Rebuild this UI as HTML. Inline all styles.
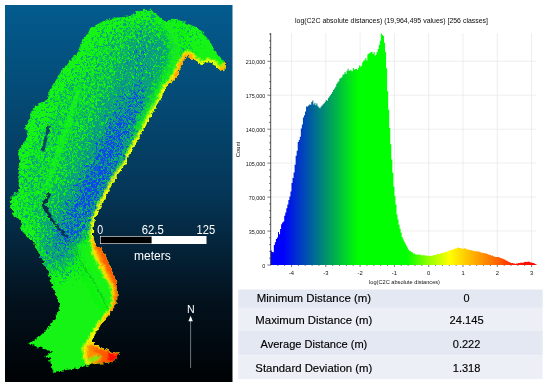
<!DOCTYPE html>
<html><head><meta charset="utf-8"><title>C2C distances</title>
<style>
html,body{margin:0;padding:0;background:#fff;}
body{width:550px;height:387px;overflow:hidden;font-family:"Liberation Sans",sans-serif;}
svg{display:block;}
text{font-family:"Liberation Sans",sans-serif;}
</style></head><body>
<svg width="550" height="387" viewBox="0 0 550 387">
<defs>
<linearGradient id="bg" x1="0" y1="0" x2="0" y2="1">
<stop offset="0" stop-color="#035b8e"/>
<stop offset="0.25" stop-color="#044a75"/>
<stop offset="0.5" stop-color="#053657"/>
<stop offset="0.78" stop-color="#03121e"/>
<stop offset="1" stop-color="#000204"/>
</linearGradient>
<linearGradient id="hg" gradientUnits="userSpaceOnUse" x1="271" y1="0" x2="537" y2="0">
<stop offset="0" stop-color="#0000ff"/>
<stop offset="0.045" stop-color="#0000ff"/>
<stop offset="0.327" stop-color="#00ff00"/>
<stop offset="0.511" stop-color="#00ff00"/>
<stop offset="0.590" stop-color="#90ff00"/>
<stop offset="0.671" stop-color="#ffff00"/>
<stop offset="0.774" stop-color="#ffa500"/>
<stop offset="0.856" stop-color="#ff6000"/>
<stop offset="0.917" stop-color="#ff1800"/>
<stop offset="1" stop-color="#ff0000"/>
</linearGradient>
<path id="cloud" d="M115.4,17.8 L102.7,21.6 96,25 90,29 82,40 78,52 70,60 62,70 58,77 50,89 48,99 34,107 30,117 25,127 28,137 20,147 18,154 20,164 18,174 19,190 12,196 10,206 14,216 20,220 22,231 34,243 40,257 48,271 52,285 58,299 60,308 54,320 48,328 40,336 28,344 52,351.6 45,357 50,359 53,372 80,368 90,364.4 103,363.3 111.3,362.3 116.5,359 119.6,352 114.4,353 107,350 97,345.8 91.7,340.6 94.8,334.4 100,326 106,318 112.4,310.7 117,302 117.5,290 117,284 111.5,270 108,262 104.5,253 95,244 93,236 93,231 95,218 102,204 110,188 118,174 126,164 130,154 136,143 142,133 150,117 160,101 166,87 177,77 179,71 183,62 187.6,55.6 195,61.5 202,64 208,62 214,63.6 218,69 224,71 225,63.6 221,58 214.7,50 209.6,40.7 203,33 196.9,28 186.7,22.9 174,18.3 166.3,22 162,19.5 157.4,15.3 151,9.7 141,10 135.8,12.7 128,16.5 Z"/>
<clipPath id="cc"><use href="#cloud"/></clipPath>
<clipPath id="pc"><rect x="5" y="5" width="227.5" height="377"/></clipPath>
<filter id="b6" x="-50%" y="-50%" width="200%" height="200%"><feGaussianBlur stdDeviation="7"/></filter>
<filter id="b3" x="-50%" y="-50%" width="200%" height="200%"><feGaussianBlur stdDeviation="3"/></filter>
<filter id="b1" x="-50%" y="-50%" width="200%" height="200%"><feGaussianBlur stdDeviation="1"/></filter>
<filter id="rough" filterUnits="userSpaceOnUse" x="0" y="0" width="240" height="387">
<feTurbulence type="fractalNoise" baseFrequency="0.3" numOctaves="2" seed="7" result="t"/>
<feDisplacementMap in="SourceGraphic" in2="t" scale="5" xChannelSelector="R" yChannelSelector="G"/>
</filter>
<filter id="spk1" filterUnits="userSpaceOnUse" x="0" y="0" width="240" height="387" color-interpolation-filters="sRGB">
<feGaussianBlur in="SourceGraphic" stdDeviation="9" result="band"/>
<feTurbulence type="fractalNoise" baseFrequency="0.5" numOctaves="2" seed="3" result="n"/>
<feColorMatrix in="n" type="matrix" values="0 0 0 0 0  0 0 0 0 0  0 0 0 0 0  2.6 0 0 0 -0.8" result="na"/>
<feComposite in="band" in2="na" operator="arithmetic" k1="0" k2="1" k3="1" k4="-1" result="sum"/>
<feComponentTransfer in="sum" result="m"><feFuncA type="linear" slope="3.5" intercept="0"/></feComponentTransfer>
<feFlood flood-color="#08a07c"/>
<feComposite operator="in" in2="m"/>
</filter>
<filter id="spk2" filterUnits="userSpaceOnUse" x="0" y="0" width="240" height="387" color-interpolation-filters="sRGB">
<feGaussianBlur in="SourceGraphic" stdDeviation="8" result="band"/>
<feTurbulence type="fractalNoise" baseFrequency="0.52" numOctaves="2" seed="11" result="n"/>
<feColorMatrix in="n" type="matrix" values="0 0 0 0 0  0 0 0 0 0  0 0 0 0 0  0 2.6 0 0 -0.8" result="na"/>
<feComposite in="band" in2="na" operator="arithmetic" k1="0" k2="1" k3="1" k4="-1" result="sum"/>
<feComponentTransfer in="sum" result="m"><feFuncA type="linear" slope="3.5" intercept="0"/></feComponentTransfer>
<feFlood flood-color="#0a48e8"/>
<feComposite operator="in" in2="m"/>
</filter>
</defs>
<rect width="550" height="387" fill="#fff"/>
<!-- left panel -->
<rect x="5" y="5" width="227.5" height="377" fill="url(#bg)"/>
<g clip-path="url(#pc)">
<g filter="url(#rough)">
<use href="#cloud" fill="#12f412"/>
<g clip-path="url(#cc)">
<polyline points="136,100 126,118 108,152 90,190 74,224 62,248" fill="none" stroke="#08a088" stroke-width="26" stroke-linecap="round" stroke-linejoin="round" filter="url(#b6)" opacity="0.6"/>
<!-- teal speckle: broad -->
<g filter="url(#spk1)">
<polyline points="150,62 128,108 106,152 86,195 68,232 56,254" fill="none" stroke="#000" stroke-width="48" stroke-linecap="round" stroke-linejoin="round" opacity="0.8"/>
<path d="M110,20 L150,9 200,30 170,80 120,170 60,250 20,225 10,205 20,150 50,90 Z" fill="#000" opacity="0.6"/>
</g>
<!-- blue speckle: core -->
<g filter="url(#spk2)">
<polyline points="134,104 124,122 110,150 94,182 80,210 68,236" fill="none" stroke="#000" stroke-width="26" stroke-linecap="round" stroke-linejoin="round" opacity="0.72"/>
<polyline points="118,140 100,176 86,206" fill="none" stroke="#000" stroke-width="20" stroke-linecap="round" stroke-linejoin="round" opacity="0.5"/>
<polyline points="62,238 50,256" fill="none" stroke="#000" stroke-width="16" stroke-linecap="round" opacity="0.4"/>
<polyline points="142,36 140,62 136,84" fill="none" stroke="#000" stroke-width="22" stroke-linecap="round" stroke-linejoin="round" opacity="0.3"/>
</g>
<polyline points="166,20 176,42 173,64 161,90 149,112 140,128" fill="none" stroke="#14f414" stroke-width="11" stroke-linecap="round" stroke-linejoin="round" filter="url(#b3)" opacity="0.8"/>
<polyline points="78,92 68,126 56,160 46,188" fill="none" stroke="#18f818" stroke-width="6" stroke-linecap="round" stroke-linejoin="round" filter="url(#b1)" opacity="0.7"/>
<path d="M74,244 L97,238 97,248 120,280 120,304 104,304 Z" fill="#14f414" filter="url(#b3)" opacity="0.95"/>
<polyline points="66,236 84,266 103,298 111,316" fill="none" stroke="#0c9c24" stroke-width="0.7" opacity="0.8"/>
<!-- right edge yellow/orange -->
<polyline points="119.6,352 114.4,353 107,350 97,345.8 91.7,340.6 94.8,334.4 100,326 106,318 112.4,310.7 117,302 117.5,290 117,284 111.5,270 108,262 104.5,253 95,244 93,236 93,231 95,218 102,204 110,188 118,174 126,164 130,154 136,143 142,133 150,117 160,101 166,87 177,77 179,71 183,62 187.6,55.6 195,61.5 202,64 208,62 214,63.6 218,69 224,71 225,63.6" fill="none" stroke="#ffff00" stroke-width="6" stroke-linejoin="round" filter="url(#b1)"/>
<polyline points="172,82 177,77 179,71 183,62 187.6,55.6 195,61" fill="none" stroke="#ffee00" stroke-width="9" stroke-linejoin="round" filter="url(#b1)"/>
<polyline points="166,87 177,77 179,71 183,62 187.6,55.6 195,61.5" fill="none" stroke="#ffb000" stroke-width="2.4" stroke-linejoin="round" filter="url(#b1)"/>
<polyline points="175,79 177,77 179,71 183,62 187.6,55.6 194,61" fill="none" stroke="#ffa000" stroke-width="4.6" stroke-linejoin="round" filter="url(#b1)"/>
<polyline points="218,69 224,71 226,63" fill="none" stroke="#ffb000" stroke-width="5" stroke-linejoin="round" filter="url(#b1)"/>
<!-- lower orange band -->
<g filter="url(#b1)">
<polygon points="90.9,236 91.1,244 92.0,253 96.5,262 100.5,270 109.7,285 111.5,290 112.1,302 108.5,310.7 101.8,319 95.3,328 90.9,336.5 84.9,345.8 100.0,345.8 96.5,336.5 101.5,328 108.0,319 115.4,310.7 120.0,302 120.5,290 120.0,285 114.5,270 111.0,262 107.5,253 98.0,244 96.0,236" fill="#f8f400"/>
<polygon points="91.9,236 92.4,244 94.9,253 99.1,262 103.1,270 111.6,285 113.2,290 113.6,302 109.8,310.7 103.0,319 96.5,328 101.5,328 108.0,319 115.4,310.7 120.0,302 120.5,290 120.0,285 114.5,270 111.0,262 107.5,253 98.0,244 96.0,236" fill="#ffb400"/>
<polygon points="93.2,244 97.5,253 101.6,262 105.4,270 113.1,285 114.5,290 114.6,302 110.6,310.7 115.4,310.7 120.0,302 120.5,290 120.0,285 114.5,270 111.0,262 107.5,253 98.0,244" fill="#ff8400"/>
<polygon points="94.2,244 100.6,253 104.4,262 108.1,270 114.9,285 115.9,290 115.8,302 120.0,302 120.5,290 120.0,285 114.5,270 111.0,262 107.5,253 98.0,244" fill="#ff5400"/>
</g>
<!-- bottom blob -->
<g filter="url(#b1)">
<path d="M82.5,347 L90,337 97,345.8 107,350 114.4,353 121,351 117.5,360 111.3,363.3 103,364.3 90,365.4 85,363 83,355 Z" fill="#f6f200"/>
<path d="M86.5,348 L91,342 97,346.5 107,350 114.4,353 121,351 117.5,360 111.3,363.3 103,364.3 92,365 88,361 86.5,355 Z" fill="#ff8c00"/>
<path d="M91,347.5 L107,350.5 114.4,353.5 121,351 117.5,360 111.3,363.3 101,364.3 99,355 Z" fill="#ff5c00"/>
<path d="M107.5,352 L114.4,354 120.6,351.5 117.3,360 112,362.6 108,361 Z" fill="#ff1000"/>
<path d="M87,359.5 L99,355 100.5,357.8 89.5,362.6 Z" fill="#30ff10"/>
</g>
</g>
<!-- holes -->
<polyline points="48.5,127 46,138 43.2,150" fill="none" stroke="#0a4468" stroke-width="3" stroke-linecap="round"/>
<polyline points="49,195 43.5,205 49.5,216" fill="none" stroke="#072d47" stroke-width="3.6" stroke-linecap="round" stroke-linejoin="round"/><polyline points="49.5,216 58,228 66,236" fill="none" stroke="#072d47" stroke-width="2" stroke-linecap="round" stroke-linejoin="round"/>
</g>
</g>
<!-- scale bar -->
<rect x="100" y="236" width="106.5" height="8" fill="#fff"/>
<rect x="100.6" y="236.6" width="51" height="6.8" fill="#000"/>
<g fill="#fff" font-size="12.4" text-anchor="middle">
<text x="100.2" y="234" textLength="5.9" lengthAdjust="spacingAndGlyphs">0</text>
<text x="152.7" y="234" textLength="22" lengthAdjust="spacingAndGlyphs">62.5</text>
<text x="205.8" y="234" textLength="18.6" lengthAdjust="spacingAndGlyphs">125</text>
<text x="152.4" y="259.5" font-size="12">meters</text>
<text x="190.8" y="313" font-size="10.6">N</text>
</g>
<line x1="190.6" y1="319" x2="190.6" y2="368" stroke="#b8bec6" stroke-width="0.6"/>
<path d="M190.6,315.8 L192.8,321.3 188.4,321.3 Z" fill="#fff"/>
<!-- chart -->
<g stroke="#e6e6e6" stroke-width="0.7">
<line x1="291.5" y1="33" x2="291.5" y2="265"/><line x1="325.8" y1="33" x2="325.8" y2="265"/><line x1="360.1" y1="33" x2="360.1" y2="265"/><line x1="394.4" y1="33" x2="394.4" y2="265"/><line x1="428.7" y1="33" x2="428.7" y2="265"/><line x1="463" y1="33" x2="463" y2="265"/><line x1="497.3" y1="33" x2="497.3" y2="265"/><line x1="531.6" y1="33" x2="531.6" y2="265"/>
<line x1="271" y1="61.3" x2="536" y2="61.3"/><line x1="271" y1="95.2" x2="536" y2="95.2"/><line x1="271" y1="129.2" x2="536" y2="129.2"/><line x1="271" y1="163.1" x2="536" y2="163.1"/><line x1="271" y1="197.1" x2="536" y2="197.1"/><line x1="271" y1="231" x2="536" y2="231"/>
</g>
<path id="hist" fill="url(#hg)" d="M270.7,265 L270.70,250.5 271.74,250.5 L271.74,251.9 272.78,251.9 L272.78,252.2 273.82,252.2 L273.82,245.0 274.86,245.0 L274.86,242.3 275.90,242.3 L275.90,238.9 276.94,238.9 L276.94,237.4 277.98,237.4 L277.98,231.9 279.02,231.9 L279.02,234.3 280.06,234.3 L280.06,228.9 281.09,228.9 L281.09,224.2 282.13,224.2 L282.13,222.4 283.17,222.4 L283.17,221.5 284.21,221.5 L284.21,215.7 285.25,215.7 L285.25,212.4 286.29,212.4 L286.29,208.2 287.33,208.2 L287.33,204.6 288.37,204.6 L288.37,199.9 289.41,199.9 L289.41,196.6 290.45,196.6 L290.45,191.6 291.49,191.6 L291.49,183.0 292.53,183.0 L292.53,177.9 293.57,177.9 L293.57,172.4 294.61,172.4 L294.61,164.7 295.65,164.7 L295.65,155.8 296.69,155.8 L296.69,150.7 297.73,150.7 L297.73,142.0 298.77,142.0 L298.77,140.0 299.80,140.0 L299.80,136.7 300.84,136.7 L300.84,128.4 301.88,128.4 L301.88,124.5 302.92,124.5 L302.92,117.5 303.96,117.5 L303.96,115.3 305.00,115.3 L305.00,111.4 306.04,111.4 L306.04,106.5 307.08,106.5 L307.08,106.5 308.12,106.5 L308.12,105.5 309.16,105.5 L309.16,104.5 310.20,104.5 L310.20,104.8 311.24,104.8 L311.24,102.0 312.28,102.0 L312.28,100.5 313.32,100.5 L313.32,104.6 314.36,104.6 L314.36,103.1 315.40,103.1 L315.40,105.2 316.44,105.2 L316.44,103.6 317.48,103.6 L317.48,106.3 318.51,106.3 L318.51,107.5 319.55,107.5 L319.55,108.3 320.59,108.3 L320.59,106.4 321.63,106.4 L321.63,105.6 322.67,105.6 L322.67,104.3 323.71,104.3 L323.71,103.3 324.75,103.3 L324.75,101.8 325.79,101.8 L325.79,99.9 326.83,99.9 L326.83,100.7 327.87,100.7 L327.87,97.9 328.91,97.9 L328.91,96.6 329.95,96.6 L329.95,95.2 330.99,95.2 L330.99,93.7 332.03,93.7 L332.03,92.0 333.07,92.0 L333.07,89.8 334.11,89.8 L334.11,88.6 335.15,88.6 L335.15,86.8 336.19,86.8 L336.19,83.9 337.23,83.9 L337.22,82.5 338.26,82.5 L338.26,81.2 339.30,81.2 L339.30,78.7 340.34,78.7 L340.34,77.9 341.38,77.9 L341.38,77.2 342.42,77.2 L342.42,74.7 343.46,74.7 L343.46,74.2 344.50,74.2 L344.50,72.0 345.54,72.0 L345.54,73.8 346.58,73.8 L346.58,70.8 347.62,70.8 L347.62,68.7 348.66,68.7 L348.66,71.1 349.70,71.1 L349.70,70.0 350.74,70.0 L350.74,70.6 351.78,70.6 L351.78,71.2 352.82,71.2 L352.82,68.1 353.86,68.1 L353.86,69.6 354.90,69.6 L354.90,68.9 355.94,68.9 L355.94,68.7 356.97,68.7 L356.97,69.9 358.01,69.9 L358.01,68.0 359.05,68.0 L359.05,65.4 360.09,65.4 L360.09,66.6 361.13,66.6 L361.13,65.7 362.17,65.7 L362.17,62.2 363.21,62.2 L363.21,60.7 364.25,60.7 L364.25,59.9 365.29,59.9 L365.29,58.0 366.33,58.0 L366.33,60.6 367.37,60.6 L367.37,54.5 368.41,54.5 L368.41,53.5 369.45,53.5 L369.45,53.0 370.49,53.0 L370.49,52.0 371.53,52.0 L371.53,52.0 372.57,52.0 L372.57,54.0 373.61,54.0 L373.61,52.0 374.65,52.0 L374.65,55.4 375.68,55.4 L375.68,54.6 376.72,54.6 L376.72,51.8 377.76,51.8 L377.76,49.1 378.80,49.1 L378.80,45.0 379.84,45.0 L379.84,40.8 380.88,40.8 L380.88,33.5 381.92,33.5 L381.92,35.0 382.96,35.0 L382.96,36.1 384.00,36.1 L384.00,42.8 385.04,42.8 L385.04,52.1 386.08,52.1 L386.08,68.2 387.12,68.2 L387.12,91.2 388.16,91.2 L388.16,109.7 389.20,109.7 L389.20,128.1 390.24,128.1 L390.24,144.2 391.28,144.2 L391.28,159.6 392.32,159.6 L392.32,172.7 393.36,172.7 L393.36,186.6 394.39,186.6 L394.39,196.1 395.43,196.1 L395.43,204.6 396.47,204.6 L396.47,214.5 397.51,214.5 L397.51,219.4 398.55,219.4 L398.55,224.7 399.59,224.7 L399.59,228.7 400.63,228.7 L400.63,232.8 401.67,232.8 L401.67,237.0 402.71,237.0 L402.71,239.2 403.75,239.2 L403.75,241.6 404.79,241.6 L404.79,243.6 405.83,243.6 L405.83,245.6 406.87,245.6 L406.87,247.5 407.91,247.5 L407.91,249.6 408.95,249.6 L408.95,250.7 409.99,250.7 L409.99,251.3 411.03,251.3 L411.03,252.0 412.07,252.0 L412.07,252.6 413.11,252.6 L413.11,253.4 414.14,253.4 L414.14,253.6 415.18,253.6 L415.18,254.4 416.22,254.4 L416.22,254.5 417.26,254.5 L417.26,254.8 418.30,254.8 L418.30,254.3 419.34,254.3 L419.34,254.9 420.38,254.9 L420.38,254.8 421.42,254.8 L421.42,255.4 422.46,255.4 L422.46,255.2 423.50,255.2 L423.50,255.0 424.54,255.0 L424.54,255.4 425.58,255.4 L425.58,255.5 426.62,255.5 L426.62,255.6 427.66,255.6 L427.66,256.1 428.70,256.1 L428.70,256.1 429.74,256.1 L429.74,255.8 430.78,255.8 L430.78,256.1 431.82,256.1 L431.82,255.7 432.85,255.7 L432.85,255.3 433.89,255.3 L433.89,255.1 434.93,255.1 L434.93,255.1 435.97,255.1 L435.97,254.6 437.01,254.6 L437.01,254.1 438.05,254.1 L438.05,254.1 439.09,254.1 L439.09,253.9 440.13,253.9 L440.13,253.5 441.17,253.5 L441.17,253.0 442.21,253.0 L442.21,252.8 443.25,252.8 L443.25,253.2 444.29,253.2 L444.29,251.9 445.33,251.9 L445.33,252.0 446.37,252.0 L446.37,251.7 447.41,251.7 L447.41,251.4 448.45,251.4 L448.45,251.1 449.49,251.1 L449.49,250.1 450.53,250.1 L450.53,250.1 451.56,250.1 L451.56,250.1 452.60,250.1 L452.60,249.3 453.64,249.3 L453.64,249.0 454.68,249.0 L454.68,248.6 455.72,248.6 L455.72,248.5 456.76,248.5 L456.76,247.7 457.80,247.7 L457.80,247.6 458.84,247.6 L458.84,247.9 459.88,247.9 L459.88,248.1 460.92,248.1 L460.92,248.3 461.96,248.3 L461.96,248.9 463.00,248.9 L463.00,248.6 464.04,248.6 L464.04,248.3 465.08,248.3 L465.08,248.4 466.12,248.4 L466.12,249.3 467.16,249.3 L467.16,249.6 468.20,249.6 L468.20,249.6 469.24,249.6 L469.24,249.9 470.27,249.9 L470.27,250.3 471.31,250.3 L471.31,250.3 472.35,250.3 L472.35,250.8 473.39,250.8 L473.39,250.8 474.43,250.8 L474.43,251.5 475.47,251.5 L475.47,250.9 476.51,250.9 L476.51,251.2 477.55,251.2 L477.55,251.4 478.59,251.4 L478.59,251.7 479.63,251.7 L479.63,252.0 480.67,252.0 L480.67,252.5 481.71,252.5 L481.71,253.0 482.75,253.0 L482.75,252.7 483.79,252.7 L483.79,253.2 484.83,253.2 L484.83,253.2 485.87,253.2 L485.87,253.5 486.91,253.5 L486.91,254.1 487.95,254.1 L487.95,254.5 488.99,254.5 L488.99,254.8 490.02,254.8 L490.02,255.0 491.06,255.0 L491.06,255.7 492.10,255.7 L492.10,255.6 493.14,255.6 L493.14,256.3 494.18,256.3 L494.18,256.7 495.22,256.7 L495.22,256.9 496.26,256.9 L496.26,257.1 497.30,257.1 L497.30,257.0 498.34,257.0 L498.34,256.9 499.38,256.9 L499.38,257.8 500.42,257.8 L500.42,258.0 501.46,258.0 L501.46,258.4 502.50,258.4 L502.50,258.8 503.54,258.8 L503.54,259.2 504.58,259.2 L504.58,259.8 505.62,259.8 L505.62,260.4 506.66,260.4 L506.66,260.8 507.70,260.8 L507.70,261.8 508.73,261.8 L508.73,262.0 509.77,262.0 L509.77,262.5 510.81,262.5 L510.81,263.1 511.85,263.1 L511.85,263.1 512.89,263.1 L512.89,263.2 513.93,263.2 L513.93,263.6 514.97,263.6 L514.97,264.0 516.01,264.0 L516.01,263.5 517.05,263.5 L517.05,263.5 518.09,263.5 L518.09,262.9 519.13,262.9 L519.13,263.0 520.17,263.0 L520.17,262.8 521.21,262.8 L521.21,262.5 522.25,262.5 L522.25,262.9 523.29,262.9 L523.29,262.3 524.33,262.3 L524.33,262.1 525.37,262.1 L525.37,261.7 526.41,261.7 L526.41,262.1 527.44,262.1 L527.44,261.8 528.48,261.8 L528.48,261.6 529.52,261.6 L529.52,262.2 530.56,262.2 L530.56,262.5 531.60,262.5 L531.60,262.7 532.64,262.7 L532.64,263.1 533.68,263.1 L533.68,263.3 534.72,263.3 L534.72,264.0 535.76,264.0 L535.76,264.6 536.80,264.6 L536.8,265 Z"/>
<g stroke="#222" stroke-width="0.8">
<line x1="270.7" y1="33" x2="270.7" y2="265.4"/>
<line x1="270.8" y1="265" x2="270.8" y2="265"/>
</g>
<g stroke="#222" stroke-width="0.6"><line x1="267.4" y1="265.0" x2="270.7" y2="265.0"/><line x1="269.1" y1="258.2" x2="270.7" y2="258.2"/><line x1="269.1" y1="251.4" x2="270.7" y2="251.4"/><line x1="269.1" y1="244.6" x2="270.7" y2="244.6"/><line x1="269.1" y1="237.8" x2="270.7" y2="237.8"/><line x1="267.4" y1="231.1" x2="270.7" y2="231.1"/><line x1="269.1" y1="224.3" x2="270.7" y2="224.3"/><line x1="269.1" y1="217.5" x2="270.7" y2="217.5"/><line x1="269.1" y1="210.7" x2="270.7" y2="210.7"/><line x1="269.1" y1="203.9" x2="270.7" y2="203.9"/><line x1="267.4" y1="197.1" x2="270.7" y2="197.1"/><line x1="269.1" y1="190.3" x2="270.7" y2="190.3"/><line x1="269.1" y1="183.5" x2="270.7" y2="183.5"/><line x1="269.1" y1="176.7" x2="270.7" y2="176.7"/><line x1="269.1" y1="169.9" x2="270.7" y2="169.9"/><line x1="267.4" y1="163.1" x2="270.7" y2="163.1"/><line x1="269.1" y1="156.4" x2="270.7" y2="156.4"/><line x1="269.1" y1="149.6" x2="270.7" y2="149.6"/><line x1="269.1" y1="142.8" x2="270.7" y2="142.8"/><line x1="269.1" y1="136.0" x2="270.7" y2="136.0"/><line x1="267.4" y1="129.2" x2="270.7" y2="129.2"/><line x1="269.1" y1="122.4" x2="270.7" y2="122.4"/><line x1="269.1" y1="115.6" x2="270.7" y2="115.6"/><line x1="269.1" y1="108.8" x2="270.7" y2="108.8"/><line x1="269.1" y1="102.0" x2="270.7" y2="102.0"/><line x1="267.4" y1="95.2" x2="270.7" y2="95.2"/><line x1="269.1" y1="88.5" x2="270.7" y2="88.5"/><line x1="269.1" y1="81.7" x2="270.7" y2="81.7"/><line x1="269.1" y1="74.9" x2="270.7" y2="74.9"/><line x1="269.1" y1="68.1" x2="270.7" y2="68.1"/><line x1="267.4" y1="61.3" x2="270.7" y2="61.3"/><line x1="269.1" y1="54.5" x2="270.7" y2="54.5"/><line x1="269.1" y1="47.7" x2="270.7" y2="47.7"/><line x1="269.1" y1="40.9" x2="270.7" y2="40.9"/><line x1="269.1" y1="34.1" x2="270.7" y2="34.1"/><line x1="277.8" y1="265" x2="277.8" y2="266.0"/><line x1="284.6" y1="265" x2="284.6" y2="266.0"/><line x1="291.5" y1="265" x2="291.5" y2="267.0"/><line x1="298.4" y1="265" x2="298.4" y2="266.0"/><line x1="305.2" y1="265" x2="305.2" y2="266.0"/><line x1="312.1" y1="265" x2="312.1" y2="266.0"/><line x1="318.9" y1="265" x2="318.9" y2="266.0"/><line x1="325.8" y1="265" x2="325.8" y2="267.0"/><line x1="332.7" y1="265" x2="332.7" y2="266.0"/><line x1="339.5" y1="265" x2="339.5" y2="266.0"/><line x1="346.4" y1="265" x2="346.4" y2="266.0"/><line x1="353.2" y1="265" x2="353.2" y2="266.0"/><line x1="360.1" y1="265" x2="360.1" y2="267.0"/><line x1="367.0" y1="265" x2="367.0" y2="266.0"/><line x1="373.8" y1="265" x2="373.8" y2="266.0"/><line x1="380.7" y1="265" x2="380.7" y2="266.0"/><line x1="387.5" y1="265" x2="387.5" y2="266.0"/><line x1="394.4" y1="265" x2="394.4" y2="267.0"/><line x1="401.3" y1="265" x2="401.3" y2="266.0"/><line x1="408.1" y1="265" x2="408.1" y2="266.0"/><line x1="415.0" y1="265" x2="415.0" y2="266.0"/><line x1="421.8" y1="265" x2="421.8" y2="266.0"/><line x1="428.7" y1="265" x2="428.7" y2="267.0"/><line x1="435.6" y1="265" x2="435.6" y2="266.0"/><line x1="442.4" y1="265" x2="442.4" y2="266.0"/><line x1="449.3" y1="265" x2="449.3" y2="266.0"/><line x1="456.1" y1="265" x2="456.1" y2="266.0"/><line x1="463.0" y1="265" x2="463.0" y2="267.0"/><line x1="469.9" y1="265" x2="469.9" y2="266.0"/><line x1="476.7" y1="265" x2="476.7" y2="266.0"/><line x1="483.6" y1="265" x2="483.6" y2="266.0"/><line x1="490.4" y1="265" x2="490.4" y2="266.0"/><line x1="497.3" y1="265" x2="497.3" y2="267.0"/><line x1="504.2" y1="265" x2="504.2" y2="266.0"/><line x1="511.0" y1="265" x2="511.0" y2="266.0"/><line x1="517.9" y1="265" x2="517.9" y2="266.0"/><line x1="524.7" y1="265" x2="524.7" y2="266.0"/><line x1="531.6" y1="265" x2="531.6" y2="267.0"/></g>
<g font-size="5.4" fill="#111" text-anchor="end">
<text x="265.2" y="64.3">210,000</text><text x="265.2" y="98.2">175,000</text><text x="265.2" y="132.2">140,000</text><text x="265.2" y="166.1">105,000</text><text x="265.2" y="200.1">70,000</text><text x="265.2" y="234.0">35,000</text><text x="265.2" y="268.0">0</text>
</g>
<g font-size="5.8" fill="#111" text-anchor="middle">
<text x="291.5" y="274.5">-4</text><text x="325.8" y="274.5">-3</text><text x="360.1" y="274.5">-2</text><text x="394.4" y="274.5">-1</text><text x="428.7" y="274.5">0</text><text x="463" y="274.5">1</text><text x="497.3" y="274.5">2</text><text x="531.6" y="274.5">3</text>
<text x="404.5" y="283.5" textLength="71" lengthAdjust="spacingAndGlyphs">log(C2C absolute distances)</text>
<text transform="translate(240,149.5) rotate(-90)">Count</text>
</g>
<text x="391.5" y="22.5" font-size="6.6" fill="#0a0a0a" text-anchor="middle" textLength="193" lengthAdjust="spacingAndGlyphs">log(C2C absolute distances) (19,964,495 values) [256 classes]</text>
<!-- table -->
<rect x="238.2" y="289.5" width="304.5" height="18.4" fill="#e4e8f3"/>
<rect x="238.2" y="307.9" width="304.5" height="23.1" fill="#edeff7"/>
<rect x="238.2" y="331" width="304.5" height="24.2" fill="#e4e8f3"/>
<rect x="238.2" y="355.2" width="304.5" height="23.9" fill="#edeff7"/>
<g font-size="10.9" fill="#000" stroke="#000" stroke-width="0.15" text-anchor="middle">
<text x="313.9" y="302.3" textLength="114.3" lengthAdjust="spacingAndGlyphs">Minimum Distance (m)</text>
<text x="313.8" y="323.9" textLength="116.9" lengthAdjust="spacingAndGlyphs">Maximum Distance (m)</text>
<text x="313.9" y="347.6" textLength="106.8" lengthAdjust="spacingAndGlyphs">Average Distance (m)</text>
<text x="313.8" y="371.6" textLength="116.9" lengthAdjust="spacingAndGlyphs">Standard Deviation (m)</text>
<text x="466.6" y="302.3">0</text>
<text x="466.6" y="323.9" textLength="34.1" lengthAdjust="spacingAndGlyphs">24.145</text>
<text x="466.6" y="347.6" textLength="27.6" lengthAdjust="spacingAndGlyphs">0.222</text>
<text x="466.6" y="371.6" textLength="27.6" lengthAdjust="spacingAndGlyphs">1.318</text>
</g>
</svg>
</body></html>
